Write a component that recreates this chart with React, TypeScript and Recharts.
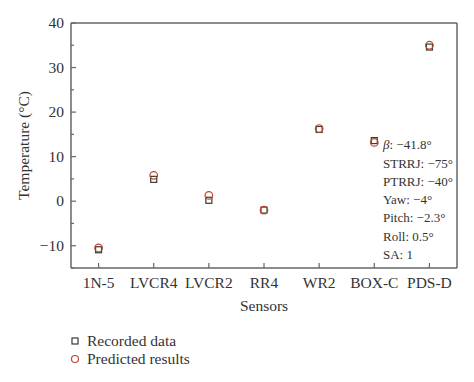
import { ScatterChart, Scatter, XAxis, YAxis, Legend, Customized, ReferenceLine } from 'recharts'

const sensors = ['1N-5', 'LVCR4', 'LVCR2', 'RR4', 'WR2', 'BOX-C', 'PDS-D']
const recorded = [-10.9, 4.9, 0.2, -2.0, 16.1, 13.6, 34.6]
const predicted = [-10.5, 5.8, 1.3, -2.0, 16.3, 13.2, 35.0]
const yTicks = [-15, -10, -5, 0, 5, 10, 15, 20, 25, 30, 35, 40]
const xTicks = [1, 2, 3, 4, 5, 6, 7]
const seriesNames = ['Recorded data', 'Predicted results']
const notes = ['STRRJ: −75°', 'PTRRJ: −40°', 'Yaw: −4°', 'Pitch: −2.3°', 'Roll: 0.5°', 'SA: 1']

const FONT = '"Liberation Serif", "DejaVu Serif", serif'
const AXIS = '#666'
const TEXT = '#333'
const RED = '#c0472f'
const DARK = '#3a3a3a'

const recordedData = sensors.map((s, i) => ({ x: i + 1, y: recorded[i], name: s }))
const predictedData = sensors.map((s, i) => ({ x: i + 1, y: predicted[i], name: s }))

const fmt = (v: number) => (v < 0 ? `−${Math.abs(v)}` : `${v}`)

function YTick(p: any) {
  const { x, y, payload } = p
  const major = payload.value % 10 === 0
  const ax = x + 7
  return (
    <g>
      <line x1={ax} x2={ax + (major ? 5 : 3)} y1={y} y2={y} stroke={AXIS} strokeWidth={1.2} />
      {major && (
        <text x={x} y={y + 5} textAnchor="end" fontFamily={FONT} fontSize={15.5} fill={TEXT}>
          {fmt(payload.value)}
        </text>
      )}
    </g>
  )
}

function XTick(p: any) {
  const { x, y, payload } = p
  return (
    <g>
      <line x1={x} x2={x} y1={y} y2={y - 5} stroke={AXIS} strokeWidth={1.2} />
      <text x={x} y={y + 20} textAnchor="middle" fontFamily={FONT} fontSize={15.5} fill={TEXT}>
        {sensors[payload.value - 1]}
      </text>
    </g>
  )
}

const SquareMark = (p: any) => (
  <rect x={p.cx - 3} y={p.cy - 3} width={6} height={6} fill="none" stroke={DARK} strokeWidth={1.2} />
)
const CircleMark = (p: any) => (
  <circle cx={p.cx} cy={p.cy} r={3.8} fill="none" stroke={RED} strokeWidth={1.2} />
)

function LegendBox(props: any) {
  const items = [...(props.payload || [])].sort(
    (a: any, b: any) => seriesNames.indexOf(a.value) - seriesNames.indexOf(b.value)
  )
  return (
    <div style={{ fontFamily: FONT, fontSize: 15.5, color: TEXT, lineHeight: '18px' }}>
      {items.map((it: any) => (
        <div key={it.value} style={{ display: 'flex', alignItems: 'center' }}>
          <svg width={14} height={18}>
            {it.value === seriesNames[0] ? (
              <rect x={4} y={6} width={6} height={6} fill="none" stroke={DARK} strokeWidth={1.2} />
            ) : (
              <circle cx={7} cy={9} r={3.5} fill="none" stroke={RED} strokeWidth={1.2} />
            )}
          </svg>
          <span style={{ marginLeft: 5 }}>{it.value}</span>
        </div>
      ))}
    </div>
  )
}

function Notes() {
  return (
    <g fontFamily={FONT} fontSize={13} fill={TEXT}>
      <text x={383} y={149}>
        <tspan fontStyle="italic">β</tspan>: −41.8°
      </text>
      {notes.map((n, i) => (
        <text key={n} x={383} y={167.5 + i * 18.3}>
          {n}
        </text>
      ))}
    </g>
  )
}

export default function App() {
  return (
    <div style={{ position: 'absolute', left: 0, top: 0, background: '#fff' }}>
      <ScatterChart width={474} height={382} margin={{ top: 23, right: 17, bottom: 74, left: 0 }}>
        <XAxis
          dataKey="x"
          type="number"
          domain={[0.5, 7.5]}
          ticks={xTicks}
          tick={<XTick />}
          tickLine={false}
          tickSize={0}
          tickMargin={0}
          height={40}
          stroke={AXIS}
          strokeWidth={1.5}
          interval={0}
          label={{
            content: (lp: any) => {
              const vb = lp.viewBox || { x: 71, y: 268, width: 386 }
              return (
                <text x={vb.x + vb.width / 2} y={vb.y + 43} textAnchor="middle" fontFamily={FONT} fontSize={15.5} fill={TEXT}>
                  Sensors
                </text>
              )
            },
          }}
        />
        <YAxis
          dataKey="y"
          type="number"
          domain={[-15, 40]}
          ticks={yTicks}
          tick={<YTick />}
          tickLine={false}
          tickSize={0}
          tickMargin={7}
          width={71}
          stroke={AXIS}
          strokeWidth={1.5}
          interval={0}
          label={{
            content: (lp: any) => {
              const vb = lp.viewBox || { x: 0, y: 23, height: 245 }
              const cx = 23
              const cy = vb.y + vb.height / 2
              return (
                <text x={cx} y={cy} transform={`rotate(-90, ${cx}, ${cy})`} textAnchor="middle" dominantBaseline="central" fontFamily={FONT} fontSize={15.5} fill={TEXT}>
                  Temperature (°C)
                </text>
              )
            },
          }}
        />
        <ReferenceLine y={40} stroke={AXIS} strokeWidth={1.5} />
        <ReferenceLine x={7.5} stroke={AXIS} strokeWidth={1.5} />
        <Scatter name={seriesNames[0]} data={recordedData} shape={SquareMark} isAnimationActive={false} legendType="square" />
        <Scatter name={seriesNames[1]} data={predictedData} shape={CircleMark} isAnimationActive={false} legendType="circle" />
        <Legend
          layout="vertical"
          align="center"
          verticalAlign="middle"
          content={<LegendBox />}
          wrapperStyle={{ position: 'absolute', left: 68, top: 332, width: 200 }}
        />
        <Customized component={Notes} />
      </ScatterChart>
    </div>
  )
}
